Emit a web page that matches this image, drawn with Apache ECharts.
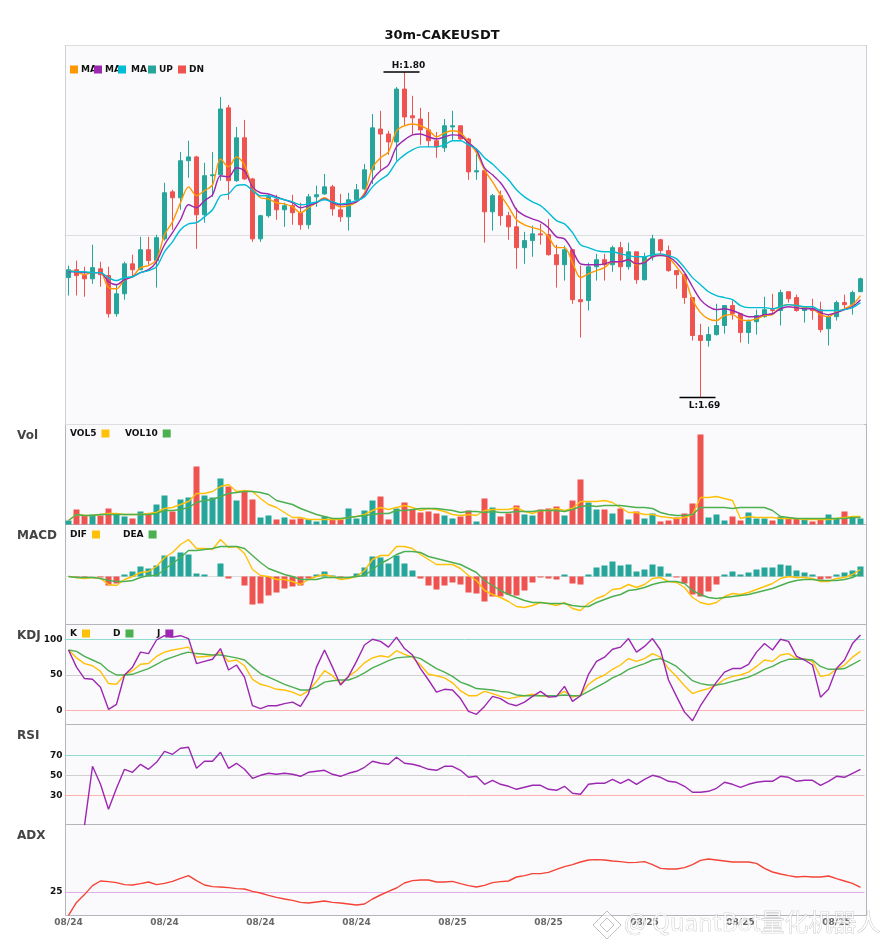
<!DOCTYPE html>
<html><head><meta charset="utf-8">
<script src="https://cdn.jsdelivr.net/npm/echarts@6/dist/echarts.min.js"></script>
<style>html,body{margin:0;padding:0;background:#fff}#c{width:885px;height:950px}</style>
</head><body><div id="c"></div>
<script>
var tickLabels=['08/24','08/24','08/24','08/24','08/25','08/25','08/25','08/25','08/25'];
var opens=[1.7296,1.7323,1.7303,1.7292,1.7326,1.7303,1.7173,1.7241,1.7343,1.7323,1.7391,1.7354,1.7428,1.7588,1.7568,1.7694,1.7707,1.7510,1.7643,1.7646,1.7874,1.7626,1.7772,1.7632,1.7428,1.7507,1.7564,1.7527,1.7541,1.7517,1.7476,1.7571,1.7581,1.7605,1.7527,1.7503,1.7561,1.7598,1.7663,1.7802,1.7785,1.7758,1.7938,1.7847,1.7836,1.7799,1.7762,1.7738,1.7809,1.7813,1.7768,1.7656,1.7660,1.7520,1.7575,1.7507,1.7469,1.7398,1.7422,1.7445,1.7442,1.7374,1.7340,1.7391,1.7221,1.7218,1.7333,1.7357,1.7340,1.7398,1.7333,1.7384,1.7289,1.7367,1.7425,1.7388,1.7320,1.7306,1.7228,1.7099,1.7082,1.7102,1.7133,1.7201,1.7173,1.7109,1.7146,1.7163,1.7187,1.7184,1.7248,1.7228,1.7184,1.7190,1.7187,1.7122,1.7163,1.7211,1.7204,1.7248];
var closes=[1.7323,1.7303,1.7292,1.7330,1.7306,1.7173,1.7241,1.7343,1.7323,1.7391,1.7354,1.7432,1.7585,1.7568,1.7694,1.7707,1.7510,1.7643,1.7646,1.7870,1.7626,1.7772,1.7632,1.7428,1.7507,1.7571,1.7527,1.7541,1.7517,1.7476,1.7571,1.7578,1.7605,1.7530,1.7503,1.7561,1.7595,1.7663,1.7806,1.7785,1.7758,1.7938,1.7843,1.7840,1.7799,1.7762,1.7741,1.7813,1.7813,1.7768,1.7656,1.7660,1.7520,1.7575,1.7507,1.7469,1.7398,1.7422,1.7445,1.7442,1.7374,1.7340,1.7391,1.7221,1.7214,1.7333,1.7357,1.7340,1.7398,1.7333,1.7384,1.7289,1.7367,1.7428,1.7388,1.7320,1.7306,1.7228,1.7099,1.7082,1.7102,1.7133,1.7201,1.7173,1.7109,1.7146,1.7167,1.7187,1.7184,1.7245,1.7224,1.7184,1.7197,1.7184,1.7119,1.7163,1.7211,1.7204,1.7245,1.7292];
var lows=[1.7235,1.7235,1.7231,1.7275,1.7265,1.7160,1.7163,1.7221,1.7299,1.7323,1.7340,1.7262,1.7422,1.7459,1.7527,1.7636,1.7394,1.7483,1.7571,1.7626,1.7561,1.7622,1.7629,1.7418,1.7418,1.7500,1.7493,1.7469,1.7476,1.7459,1.7462,1.7537,1.7578,1.7507,1.7486,1.7456,1.7551,1.7595,1.7615,1.7663,1.7714,1.7694,1.7813,1.7782,1.7748,1.7741,1.7704,1.7724,1.7765,1.7762,1.7629,1.7629,1.7415,1.7456,1.7473,1.7425,1.7326,1.7343,1.7367,1.7408,1.7371,1.7262,1.7286,1.7207,1.7092,1.7184,1.7286,1.7286,1.7316,1.7286,1.7323,1.7275,1.7286,1.7354,1.7374,1.7316,1.7258,1.7207,1.7082,1.6888,1.7061,1.7099,1.7105,1.7153,1.7075,1.7071,1.7102,1.7160,1.7173,1.7133,1.7211,1.7180,1.7143,1.7153,1.7109,1.7065,1.7150,1.7190,1.7170,1.7248];
var highs=[1.7337,1.7354,1.7333,1.7408,1.7350,1.7333,1.7272,1.7350,1.7374,1.7435,1.7435,1.7442,1.7619,1.7595,1.7724,1.7762,1.7711,1.7687,1.7724,1.7911,1.7884,1.7809,1.7833,1.7636,1.7510,1.7581,1.7578,1.7551,1.7578,1.7551,1.7581,1.7609,1.7649,1.7612,1.7581,1.7585,1.7615,1.7683,1.7853,1.7864,1.7796,1.7945,1.7996,1.7915,1.7874,1.7860,1.7792,1.7836,1.7864,1.7813,1.7772,1.7734,1.7660,1.7581,1.7592,1.7520,1.7534,1.7452,1.7473,1.7479,1.7496,1.7408,1.7405,1.7394,1.7337,1.7347,1.7377,1.7377,1.7405,1.7418,1.7415,1.7384,1.7381,1.7442,1.7428,1.7405,1.7320,1.7306,1.7228,1.7139,1.7129,1.7207,1.7201,1.7218,1.7173,1.7153,1.7187,1.7231,1.7241,1.7255,1.7248,1.7238,1.7197,1.7224,1.7214,1.7170,1.7218,1.7238,1.7252,1.7296];
var ma5=[1.7320,1.7316,1.7306,1.7313,1.7313,1.7262,1.7258,1.7289,1.7299,1.7330,1.7337,1.7357,1.7442,1.7486,1.7551,1.7605,1.7575,1.7592,1.7612,1.7700,1.7673,1.7707,1.7680,1.7605,1.7568,1.7564,1.7551,1.7547,1.7537,1.7517,1.7534,1.7551,1.7568,1.7551,1.7537,1.7541,1.7554,1.7585,1.7670,1.7704,1.7724,1.7796,1.7813,1.7819,1.7813,1.7799,1.7775,1.7789,1.7796,1.7789,1.7758,1.7721,1.7663,1.7622,1.7578,1.7537,1.7493,1.7476,1.7466,1.7459,1.7435,1.7398,1.7398,1.7347,1.7296,1.7309,1.7320,1.7330,1.7350,1.7350,1.7357,1.7340,1.7350,1.7367,1.7374,1.7364,1.7333,1.7296,1.7221,1.7177,1.7156,1.7150,1.7167,1.7170,1.7153,1.7150,1.7156,1.7167,1.7170,1.7197,1.7204,1.7201,1.7194,1.7190,1.7170,1.7163,1.7180,1.7190,1.7204,1.7235];
var ma10=[1.7316,1.7316,1.7313,1.7313,1.7313,1.7282,1.7272,1.7289,1.7299,1.7313,1.7323,1.7350,1.7408,1.7449,1.7493,1.7544,1.7534,1.7558,1.7578,1.7643,1.7639,1.7670,1.7660,1.7605,1.7585,1.7581,1.7571,1.7561,1.7551,1.7534,1.7541,1.7551,1.7564,1.7551,1.7544,1.7547,1.7554,1.7578,1.7629,1.7660,1.7680,1.7741,1.7765,1.7782,1.7785,1.7775,1.7768,1.7775,1.7782,1.7779,1.7755,1.7731,1.7670,1.7646,1.7619,1.7578,1.7527,1.7507,1.7496,1.7486,1.7466,1.7435,1.7428,1.7388,1.7343,1.7340,1.7340,1.7343,1.7350,1.7350,1.7357,1.7343,1.7347,1.7367,1.7371,1.7367,1.7347,1.7313,1.7265,1.7221,1.7197,1.7187,1.7190,1.7184,1.7173,1.7163,1.7163,1.7170,1.7173,1.7190,1.7197,1.7194,1.7190,1.7190,1.7177,1.7170,1.7177,1.7187,1.7197,1.7221];
var ma20=[1.7320,1.7316,1.7316,1.7313,1.7313,1.7296,1.7286,1.7296,1.7299,1.7313,1.7320,1.7333,1.7384,1.7418,1.7459,1.7479,1.7483,1.7503,1.7527,1.7575,1.7581,1.7609,1.7612,1.7592,1.7575,1.7575,1.7568,1.7561,1.7554,1.7544,1.7547,1.7554,1.7561,1.7554,1.7547,1.7551,1.7558,1.7571,1.7605,1.7629,1.7649,1.7690,1.7714,1.7731,1.7741,1.7741,1.7741,1.7748,1.7762,1.7762,1.7748,1.7734,1.7704,1.7683,1.7656,1.7629,1.7595,1.7571,1.7554,1.7541,1.7517,1.7490,1.7479,1.7449,1.7408,1.7398,1.7388,1.7384,1.7384,1.7377,1.7371,1.7367,1.7367,1.7374,1.7377,1.7371,1.7360,1.7330,1.7296,1.7272,1.7248,1.7235,1.7228,1.7221,1.7201,1.7194,1.7194,1.7194,1.7190,1.7197,1.7204,1.7201,1.7197,1.7197,1.7184,1.7184,1.7184,1.7187,1.7194,1.7211];
var volume=[4,15,9,10,9,16,10,8,6,13,10,20,29,13,25,27,58,29,27,46,38,24,33,25,7,9,5,7,5,6,5,3,8,5,5,16,6,14,24,28,5,16,22,15,12,13,11,9,6,8,14,3,26,17,8,11,19,10,9,15,16,18,9,24,45,22,15,15,11,16,5,13,6,11,3,4,7,11,21,90,7,10,4,8,4,12,6,6,4,8,6,6,5,3,5,10,6,13,7,6];
var vol5=[4,10,9,9,10,11,11,10,10,10,11,12,16,17,20,23,31,31,33,38,40,33,34,33,26,20,17,12,7,7,5,5,5,5,5,7,8,10,14,17,15,17,19,17,14,16,15,13,10,9,10,9,14,15,15,15,17,13,11,14,14,16,14,16,23,23,23,24,22,17,12,12,10,10,8,7,6,7,10,27,27,28,26,24,6,8,7,7,7,6,6,6,5,5,5,5,6,7,8,8];
var vol10=[4,10,9,9,10,10,10,10,10,10,10,11,14,14,15,17,22,24,25,28,31,32,33,33,32,30,24,22,20,16,13,10,8,6,6,7,8,9,10,11,11,14,14,15,16,16,16,15,14,12,13,13,12,13,12,12,13,13,13,14,14,14,13,15,18,19,18,19,19,19,18,17,17,16,12,10,9,9,10,17,17,17,17,16,17,17,17,17,14,8,7,6,6,6,6,6,6,6,7,7];
var macdHist=[0,-1,-2,0,-1,-9,-7,2,5,10,8,11,21,20,24,22,3,2,0,13,-2,0,-9,-28,-27,-19,-16,-12,-10,-9,-2,2,5,1,-2,0,3,9,20,19,13,21,13,6,-2,-9,-13,-9,-6,-8,-16,-17,-25,-20,-20,-18,-19,-14,-6,-1,-2,-3,2,-7,-8,2,9,11,15,11,12,5,7,12,10,3,-1,-7,-18,-20,-15,-8,2,5,2,4,7,9,9,12,11,6,4,2,-3,-2,2,4,6,10];
var dif=[0,-1,-2,-1,-2,-8,-9,-3,0,4,5,10,19,24,32,37,28,28,27,37,29,30,23,7,1,0,-3,-3,-5,-8,-3,0,2,0,-3,-2,0,6,17,21,21,30,30,28,22,17,12,12,12,8,1,-4,-14,-18,-21,-25,-30,-31,-29,-26,-27,-29,-26,-32,-34,-27,-22,-19,-13,-12,-8,-11,-8,-2,-1,-5,-6,-11,-21,-26,-28,-26,-20,-17,-18,-16,-13,-10,-7,-2,0,-1,-1,-2,-5,-5,-2,-1,2,7];
var dea=[0,-1,-1,-1,-2,-4,-5,-5,-4,-1,1,1,7,13,19,26,26,27,28,30,30,30,28,21,14,8,5,2,0,-3,-3,-3,-1,-1,-1,-1,0,1,7,13,17,22,25,25,24,20,18,16,14,12,8,4,-4,-9,-14,-18,-21,-24,-26,-26,-27,-27,-27,-29,-30,-30,-26,-23,-20,-18,-14,-13,-11,-8,-6,-5,-5,-7,-14,-18,-21,-22,-21,-20,-19,-18,-16,-14,-12,-9,-6,-4,-3,-3,-4,-4,-4,-3,-1,3];
var kdjK=[85,74,66,63,55,38,37,50,56,65,66,76,82,85,87,89,75,76,77,82,69,71,63,44,37,34,30,29,26,21,28,41,56,49,38,48,56,67,74,77,75,84,79,75,64,51,49,46,39,28,21,21,27,24,20,17,19,21,23,21,20,21,27,19,22,37,45,50,58,64,73,69,73,80,75,59,48,35,24,28,31,36,44,48,50,54,62,71,69,78,80,73,72,69,48,50,58,64,75,83];
var kdjD=[85,83,76,71,66,56,50,50,51,55,59,65,71,75,79,82,80,79,78,78,76,74,71,61,52,47,42,37,33,29,29,33,40,42,43,43,47,53,60,65,70,74,75,76,73,66,59,54,48,40,36,31,30,29,27,26,22,21,21,21,21,21,22,21,21,27,33,39,46,51,58,62,66,71,73,68,62,52,42,38,36,36,38,41,44,47,52,58,62,68,72,72,72,71,62,58,58,59,65,71];
var kdjJ=[85,61,45,44,33,2,9,50,61,82,80,99,105,103,105,101,66,69,72,87,57,64,47,7,3,7,7,10,12,6,24,61,85,61,36,48,69,92,100,97,89,103,87,78,59,43,26,30,29,17,-1,-5,6,20,17,10,7,12,20,27,19,20,34,13,21,51,69,75,86,89,101,82,90,101,85,43,20,-2,-14,7,24,40,54,59,59,65,82,94,85,100,97,76,71,64,19,30,59,71,94,106];
var rsi=[null,null,0,59,41,16,37,56,53,61,56,63,74,71,77,78,57,64,64,73,57,62,56,47,50,52,51,52,51,49,53,54,55,51,49,52,54,58,64,62,61,68,62,61,59,56,55,59,59,55,48,49,41,45,41,39,36,38,40,40,36,35,39,32,31,41,42,42,46,42,46,41,46,50,48,44,43,39,33,33,34,37,43,41,38,41,43,44,44,49,48,44,45,45,40,44,49,48,52,56];
var adx=[13.3,19.8,23.7,28.2,30.5,30.2,29.7,28.7,28.5,29.2,30,28.7,29.3,30.3,31.8,33.2,30.7,28.5,27.7,27.5,27.2,26.7,26.5,25.3,24.5,23.3,22.3,21.5,20.8,19.8,19.5,20,20.5,19.8,19.5,19,18.5,19,21.5,23.5,25.3,27,29.5,30.7,31,31,30,30,30.3,29.2,28.2,27.5,28.3,29.7,30.2,30.5,32.5,33.2,34.2,34.2,34.8,36.3,37.7,38.7,40,41,41.2,41,40.5,40.2,39.7,39.8,40.2,38.7,36.8,36.5,36.5,37.2,38.7,40.8,41.5,41,40.5,40,40,40,39.3,36.8,35,34,33.2,32.5,32.8,32.5,32.5,33,31.7,30.5,29.3,27.3];

var UP='#26A69A',DN='#EF5350',ORANGE='#FF9800',PURPLE='#9C27B0',CYAN='#00BCD4',YELLOW='#FFC107',GREEN='#4CAF50',RED='#F44336';
var FONT='DejaVu Sans';
var categories=opens.map(function(_,i){return tickLabels[Math.floor(i/12)];});
var candle=function(dir){return opens.map(function(o,i){
  var up=closes[i]>=o; return (up===dir)?[o,closes[i],lows[i],highs[i]]:['-','-','-','-'];});};
var hiV=Math.max.apply(null,highs),loV=Math.min.apply(null,lows);
var hiI=highs.indexOf(hiV),loI=lows.indexOf(loV);

var tops=[45,424.5,524.5,624.5,724.5,824.5],heights=[379.5,100,100,100,100,91.2];
var grids=tops.map(function(t,i){return {left:64.5,width:800,top:t,height:heights[i],show:false};});
var xAxes=tops.map(function(_,i){return {type:'category',gridIndex:i,data:categories,boundaryGap:true,
  axisLine:{show:false},axisTick:{show:false},splitLine:{show:false},
  axisLabel:i==5?{show:true,interval:11,margin:2,color:'#666',fontFamily:FONT,fontWeight:'bold',fontSize:9,hideOverlap:false}:{show:false}};});
var hiddenY=function(i,min,max){return {type:'value',gridIndex:i,min:min,max:max,axisLine:{show:false},axisTick:{show:false},splitLine:{show:false},axisLabel:{show:false}};};
var labelY=function(i,min,max,vals){var y=hiddenY(i,min,max);
  y.axisLabel={show:true,customValues:vals,color:'#111',fontFamily:FONT,fontWeight:'bold',fontSize:9,margin:2};return y;};
var priceY=hiddenY(0,1.6796,1.8088);priceY.interval=0.0646;priceY.splitLine={show:true,lineStyle:{color:'#dddde0',width:1}};
var yAxes=[priceY,hiddenY(1,0,100),hiddenY(2,-48,52),labelY(3,-19.3,120.7,[0,50,100]),labelY(4,0.8,100.8,[30,50,70]),labelY(5,13.15,58.75,[25])];

var levelSeries=function(g,list){return list.map(function(l){return {type:'line',name:'level'+g+'_'+l[0],xAxisIndex:g,yAxisIndex:g,data:[],symbol:'none',silent:true,animation:false,z:1,
  lineStyle:{color:l[1]},itemStyle:{color:l[1]},
  markLine:{silent:true,symbol:'none',animation:false,label:{show:false},z:1,lineStyle:{color:l[1],width:1,type:'solid',opacity:1},data:[{yAxis:l[0]}]}};});};
var line=function(name,data,color,g,extra){var s={name:name,type:'line',data:data,xAxisIndex:g,yAxisIndex:g,symbol:'none',showSymbol:false,
  lineStyle:{color:color,width:1.4},itemStyle:{color:color},connectNulls:false,animation:false};
  if(extra)for(var k in extra)s[k]=extra[k];return s;};
var cstyle=function(c){return {color:c,color0:c,borderColor:c,borderColor0:c,borderWidth:1};};
var markPt={symbol:'rect',symbolSize:[36,1.5],symbolOffset:[-3,0],itemStyle:{color:'#000'},animation:false,silent:true,
  data:[
   {coord:[hiI,hiV],label:{show:true,position:'top',distance:1.5,offset:[7,0],formatter:'H:'+hiV.toFixed(2),color:'#111',fontFamily:FONT,fontWeight:'bold',fontSize:9}},
   {coord:[loI,loV],label:{show:true,position:'bottom',distance:3,offset:[7,0],formatter:'L:'+loV.toFixed(2),color:'#111',fontFamily:FONT,fontWeight:'bold',fontSize:9}}
  ]};

var series=[
 {name:'UP',type:'candlestick',data:candle(true),barWidth:5,xAxisIndex:0,yAxisIndex:0,itemStyle:cstyle(UP),animation:false},
 {name:'DN',type:'candlestick',data:candle(false),barWidth:5,xAxisIndex:0,yAxisIndex:0,itemStyle:cstyle(DN),animation:false,markPoint:markPt},
 line('MA5',ma5,ORANGE,0,{smooth:0.3}),line('MA10',ma10,PURPLE,0,{smooth:0.3}),line('MA20',ma20,CYAN,0,{smooth:0.3}),
 {name:'Vol',type:'bar',xAxisIndex:1,yAxisIndex:1,barWidth:6,animation:false,
  data:volume.map(function(v,i){return {value:v,itemStyle:{color:closes[i]>=opens[i]?UP:DN}};})},
 line('VOL5',vol5,YELLOW,1),line('VOL10',vol10,GREEN,1),
 {name:'MACD',type:'bar',xAxisIndex:2,yAxisIndex:2,barWidth:6,animation:false,
  data:macdHist.map(function(v){return {value:v,itemStyle:{color:v>=0?UP:DN}};})},
 line('DIF',dif,YELLOW,2),line('DEA',dea,GREEN,2),
 line('K',kdjK,YELLOW,3),line('D',kdjD,GREEN,3),line('J',kdjJ,PURPLE,3),
 line('RSI',rsi,PURPLE,4),
 line('ADX',adx,RED,5)
].concat(levelSeries(2,[[0,'#dcdcdc']]),
 levelSeries(3,[[100,'#8fdccf'],[50,'#cfcfcf'],[0,'#ffb0b0']]),
 levelSeries(4,[[70,'#8fdccf'],[50,'#cfcfcf'],[30,'#ffb0b0']]),
 levelSeries(5,[[25,'#e0b0e8']]));

var legendItem=function(name,left,top,color,opt){opt=opt||{};
  return {left:left,top:top,padding:0,selectedMode:false,align:opt.right?'right':'left',itemWidth:8,itemHeight:8,
    data:[{name:name,icon:'rect',itemStyle:{color:color,borderWidth:0},lineStyle:{width:0}}],
    formatter:opt.text?function(){return opt.text;}:undefined,
    textStyle:{color:'#111',fontFamily:FONT,fontWeight:'bold',fontSize:9,width:opt.w,padding:opt.pad}};};
var legends=[
 legendItem('MA5',70,65,ORANGE,{text:'MA',pad:[0,0,0,-2]}),legendItem('MA10',94,65,PURPLE,{text:'MA',pad:[0,0,0,-2]}),legendItem('MA20',118,65,CYAN,{text:'MA'}),
 legendItem('UP',148,65,UP,{pad:[0,0,0,-2]}),legendItem('DN',178,65,DN,{pad:[0,0,0,-2]}),
 legendItem('VOL5',70,429,YELLOW,{right:true}),legendItem('VOL10',125,429,GREEN,{right:true}),
 legendItem('DIF',70,530,YELLOW,{right:true,w:22}),legendItem('DEA',123,530,GREEN,{right:true,w:25}),
 legendItem('K',70,629,YELLOW,{right:true,w:12}),legendItem('D',113,629,GREEN,{right:true,w:13}),legendItem('J',157,629,PURPLE,{right:true,w:13})
];
var sideTitle=function(t,y){return {text:t,left:17,top:y,padding:0,textStyle:{color:'#444',fontFamily:FONT,fontWeight:'bold',fontSize:12}};};

var panelTops=[45.5,424.5,524.5,624.5,724.5,824.5],panelBottoms=[424.5,524.5,624.5,724.5,824.5,915.5];
var panels=panelTops.map(function(t,i){return {type:'rect',z:-1,silent:true,
  shape:{x:65.5,y:t,width:801,height:panelBottoms[i]-t},
  style:{fill:'#fafafc',stroke:i==0?'#cfcfd6':'#b4b4bb',lineWidth:1}};});

var chart=echarts.init(document.getElementById('c'),null,{renderer:'canvas'});
chart.setOption({
 animation:false,backgroundColor:'#fff',
 title:[{text:'30m-CAKEUSDT',left:442,top:29,padding:0,textAlign:'center',textStyle:{color:'#111',fontFamily:FONT,fontWeight:'bold',fontSize:13}},
  sideTitle('Vol',430),sideTitle('MACD',530),sideTitle('KDJ',630),sideTitle('RSI',730),sideTitle('ADX',830)],
 legend:legends,grid:grids,xAxis:xAxes,yAxis:yAxes,series:series,
 graphic:panels.concat([
  {type:'polygon',z:100,shape:{points:[[607,911],[621,925],[607,939],[593,925]]},style:{fill:'rgba(255,255,255,.55)',stroke:'rgba(150,150,150,.6)',lineWidth:1}},
  {type:'polygon',z:100,shape:{points:[[607,918],[614,925],[607,932],[600,925]]},style:{fill:'rgba(255,255,255,.7)',stroke:'rgba(150,150,150,.6)',lineWidth:1}},
  {type:'text',z:100,style:{text:'@ QuantBot量化机器人',x:624,y:910,fill:'rgba(255,255,255,.75)',stroke:'rgba(130,130,130,.55)',lineWidth:.6,font:'24px "Noto Sans CJK SC","DejaVu Sans"'}}
 ])
});
</script></body></html>
